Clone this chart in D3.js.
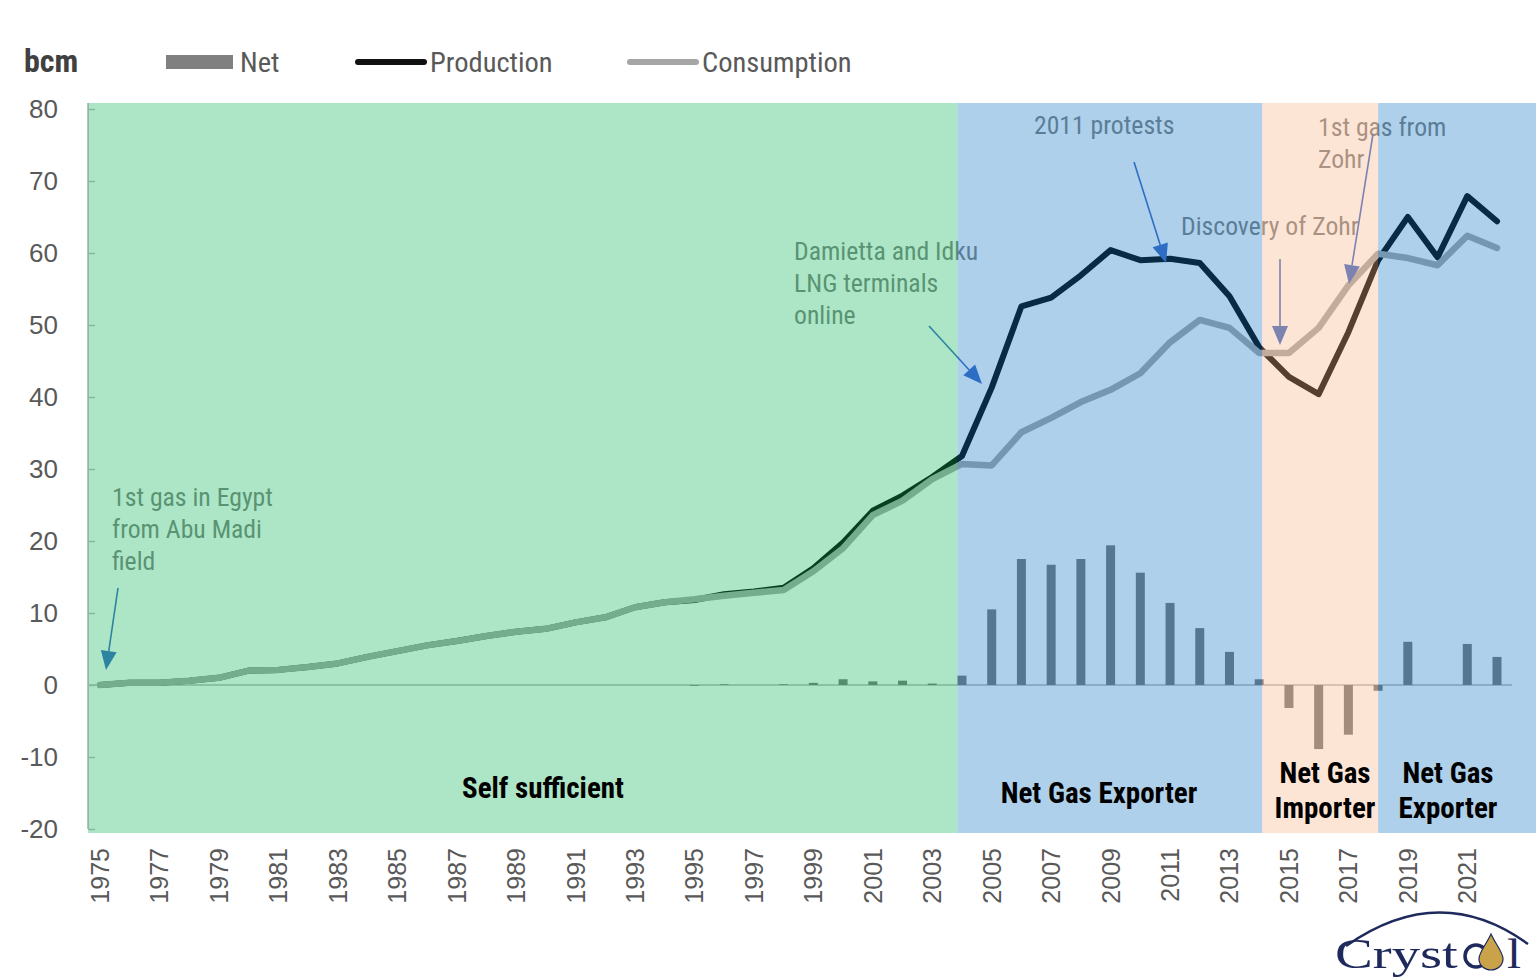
<!DOCTYPE html>
<html>
<head>
<meta charset="utf-8">
<script src="https://cdn.jsdelivr.net/npm/d3@7"></script>
<style>
  html, body { margin: 0; padding: 0; background: #fff; }
  svg { display: block; }
  .narrow { font-family: 'Liberation Sans Narrow', 'Arial Narrow', 'Roboto Condensed', sans-serif; }
</style>
</head>
<body>
<div id="chart"></div>
<script>
// Egypt gas balance, bcm

const years = d3.range(1975, 2023);

const production = [0.0, 0.3, 0.3, 0.6, 1.0, 2.0, 2.1, 2.5, 3.0, 3.9, 4.7, 5.5, 6.1, 6.8, 7.4, 7.8, 8.7, 9.4, 10.8, 11.5,
  11.8, 12.6, 13.0, 13.5, 16.2, 19.8, 24.2, 26.3, 28.9, 31.8, 41.3, 52.6, 53.8, 56.9, 60.4, 59.0, 59.2, 58.6, 54.0,
  46.9, 42.8, 40.4, 49.0, 59.0, 65.0, 59.4, 67.9, 64.4];

const consumption = [0.0, 0.3, 0.3, 0.6, 1.0, 2.0, 2.1, 2.5, 3.0, 3.9, 4.7, 5.5, 6.1, 6.8, 7.4, 7.8, 8.7, 9.4, 10.8, 11.5,
  11.9, 12.4, 12.8, 13.2, 15.8, 19.0, 23.6, 25.6, 28.6, 30.7, 30.5, 35.1, 37.1, 39.3, 41.0, 43.3, 47.6, 50.7, 49.6,
  46.1, 46.1, 49.6, 55.5, 59.9, 59.3, 58.3, 62.4, 60.7];

const net = [0, 0, 0, 0, 0, 0, 0, 0, 0, 0, 0, 0, 0, 0, 0, 0, 0, 0, 0, 0,
  -0.1, 0.1, 0, 0.1, 0.3, 0.8, 0.5, 0.6, 0.2, 1.3, 10.5, 17.5, 16.7, 17.5, 19.4, 15.6, 11.4, 7.9, 4.6,
  0.8, -3.2, -8.9, -6.9, -0.8, 6.0, 0, 5.7, 3.9];

const yTicks = [-20, -10, 0, 10, 20, 30, 40, 50, 60, 70, 80];

// periods (in years) shaded on top of the chart
const regionLabels = [['Self sufficient'], ['Net Gas Exporter'], ['Net Gas', 'Importer'], ['Net Gas', 'Exporter']];
const regionFrom = [1974.6, 2003.85, 2014.1, 2018.0];
const regionTo = [2003.85, 2014.1, 2018.0, 2023.35];

const width = 1536, height = 979;

const svg = d3.select('#chart').append('svg')
  .attr('width', width)
  .attr('height', height)
  .attr('viewBox', [0, 0, width, height]);

const x = d3.scaleLinear().domain([1975, 2022]).range([100, 1497]);
const y = d3.scaleLinear().domain([-20, 80]).range([829, 109]);

const chart = svg.append('g').attr('id', 'chart-body');
const overlay = svg.append('g').attr('id', 'periods');
const labels = svg.append('g').attr('id', 'labels');

// zero line
chart.append('line')
  .attr('x1', 88).attr('x2', 1512)
  .attr('y1', y(0)).attr('y2', y(0))
  .attr('stroke', '#c8c8c8').attr('stroke-width', 2);

// net bars
chart.append('g')
  .selectAll('rect')
  .data(years.map((yr, i) => ({ yr, v: net[i] })).filter(d => d.v !== 0))
  .join('rect')
  .attr('x', d => x(d.yr) - 4.5)
  .attr('width', 9)
  .attr('y', d => y(Math.max(0, d.v)))
  .attr('height', d => Math.abs(y(d.v) - y(0)))
  .attr('fill', '#777');

const line = d3.line()
  .x((d, i) => x(years[i]))
  .y(d => y(d));

chart.append('path')
  .datum(production)
  .attr('d', line)
  .attr('fill', 'none')
  .attr('stroke', '#000')
  .attr('stroke-width', 6)
  .attr('stroke-linejoin', 'round')
  .attr('stroke-linecap', 'round');

chart.append('path')
  .datum(consumption)
  .attr('d', line)
  .attr('fill', 'none')
  .attr('stroke', '#a8a8a8')
  .attr('stroke-width', 6.5)
  .attr('stroke-linejoin', 'round')
  .attr('stroke-linecap', 'round');

// annotations (sit under the shading, like in the original)
const annoColor = '#808080';
const arrowColor = '#3969c5';

function annotate(lines, tx, ty, lh) {
  const t = chart.append('text')
    .attr('class', 'narrow')
    .attr('font-size', 25.7)
    .attr('fill', annoColor);
  lines.forEach((s, i) => {
    t.append('tspan').attr('x', tx).attr('y', ty + i * lh).text(s);
  });
}

function arrow(x1, y1, x2, y2) {
  const ang = Math.atan2(y2 - y1, x2 - x1);
  const L = 19, W = 8;
  const bx = x2 - L * Math.cos(ang), by = y2 - L * Math.sin(ang);
  chart.append('line')
    .attr('x1', x1).attr('y1', y1).attr('x2', bx).attr('y2', by)
    .attr('stroke', arrowColor).attr('stroke-width', 1.6);
  const px = -Math.sin(ang) * W, py = Math.cos(ang) * W;
  chart.append('path')
    .attr('d', `M${x2},${y2}L${bx + px},${by + py}L${bx - px},${by - py}Z`)
    .attr('fill', arrowColor);
}

annotate(['1st gas in Egypt', 'from Abu Madi', 'field'], 112, 506, 32);
arrow(118, 588, 106, 670);

annotate(['Damietta and Idku', 'LNG terminals', 'online'], 794, 260, 32);
arrow(929, 326, 982, 384);

annotate(['2011 protests'], 1034, 134, 32);
arrow(1134, 162, 1166, 263);

annotate(['Discovery of Zohr'], 1181, 235, 32);
arrow(1280, 259, 1280, 345);

annotate(['1st gas from', 'Zohr'], 1318, 136, 32);
arrow(1373, 134, 1349, 284);

// y axis
const yAxis = d3.axisLeft(y)
  .tickValues(yTicks)
  .tickSize(-7)
  .tickPadding(30)
  .tickFormat(d => String(d));

const gy = chart.append('g')
  .attr('transform', 'translate(88,0)')
  .call(yAxis);
gy.select('.domain').attr('stroke', '#bfbfbf').attr('stroke-width', 2)
  .attr('d', 'M0,103V829');
gy.selectAll('.tick line').attr('stroke', '#bfbfbf').attr('stroke-width', 1.5);
gy.selectAll('.tick text')
  .attr('fill', '#595959')
  .attr('font-size', 26)
  .attr('font-family', "'Liberation Sans', Arial, sans-serif");

// x labels, every other year
chart.append('g')
  .selectAll('text')
  .data(years.filter(yr => (yr - 1975) % 2 === 0))
  .join('text')
  .attr('transform', d => `translate(${x(d) + 9},848) rotate(-90)`)
  .attr('text-anchor', 'end')
  .attr('font-family', "'Liberation Sans', Arial, sans-serif")
  .attr('font-size', 25)
  .attr('fill', '#595959')
  .text(d => d);

// shaded periods
const regionFill = ['rgb(21,184,92)', 'rgb(24,121,195)', 'rgb(249,181,138)', 'rgb(24,121,195)'];
const regions = regionFrom.map((f, i) => ({ from: f, to: regionTo[i], fill: regionFill[i], label: regionLabels[i] }));

overlay.selectAll('rect')
  .data(regions)
  .join('rect')
  .attr('x', d => x(d.from))
  .attr('width', d => x(d.to) - x(d.from))
  .attr('y', 103)
  .attr('height', 730)
  .attr('fill', d => d.fill)
  .attr('fill-opacity', 0.35);

// period labels
const labelCx = [543, 1099, 1325, 1448];
const labelY = [798, 803, 783, 783];
regions.forEach((d, i) => {
  const t = labels.append('text')
    .attr('class', 'narrow')
    .attr('font-size', 29)
    .attr('font-weight', 'bold')
    .attr('text-anchor', 'middle')
    .attr('fill', '#000');
  d.label.forEach((s, j) => {
    t.append('tspan').attr('x', labelCx[i]).attr('y', labelY[i] + j * 35).text(s);
  });
});

// legend
const legend = svg.append('g').attr('id', 'legend');
legend.append('text')
  .attr('class', 'narrow')
  .attr('x', 24).attr('y', 72)
  .attr('font-size', 32).attr('font-weight', 'bold')
  .attr('fill', '#404040')
  .text('bcm');

legend.append('rect')
  .attr('x', 166).attr('y', 55).attr('width', 67).attr('height', 14)
  .attr('fill', '#808080');
legend.append('text').attr('class', 'narrow')
  .attr('x', 240).attr('y', 72).attr('font-size', 28.5).attr('fill', '#595959').text('Net');

legend.append('line')
  .attr('x1', 358).attr('x2', 424).attr('y1', 62).attr('y2', 62)
  .attr('stroke', '#111').attr('stroke-width', 6).attr('stroke-linecap', 'round');
legend.append('text').attr('class', 'narrow')
  .attr('x', 430).attr('y', 72).attr('font-size', 28.5).attr('fill', '#595959').text('Production');

legend.append('line')
  .attr('x1', 630).attr('x2', 696).attr('y1', 62).attr('y2', 62)
  .attr('stroke', '#a6a6a6').attr('stroke-width', 6).attr('stroke-linecap', 'round');
legend.append('text').attr('class', 'narrow')
  .attr('x', 702).attr('y', 72).attr('font-size', 28.5).attr('fill', '#595959').text('Consumption');

// logo
const logo = svg.append('g').attr('id', 'logo');
logo.append('path')
  .attr('d', 'M1346,946 Q1440,880 1528,944')
  .attr('fill', 'none').attr('stroke', '#1f2a5c').attr('stroke-width', 2.5);
logo.append('text')
  .attr('transform', 'translate(1335,968) scale(1.35,1)')
  .attr('font-family', "'Liberation Serif', 'DejaVu Serif', serif")
  .attr('font-size', 42)
  .attr('fill', '#1f2a5c')
  .text('Cryst');
logo.append('circle')
  .attr('cx', 1476).attr('cy', 956).attr('r', 11)
  .attr('fill', 'none').attr('stroke', '#1f2a5c').attr('stroke-width', 3.5);
logo.append('path')
  .attr('d', 'M1491,934 C1486,945 1479,952 1479,959 A12,11 0 0,0 1503,959 C1503,952 1496,945 1491,934 Z')
  .attr('fill', '#c9a24a').attr('stroke', '#1f2a5c').attr('stroke-width', 1.2);
logo.append('text')
  .attr('transform', 'translate(1507,968) scale(1.2,1)')
  .attr('font-family', "'Liberation Serif', 'DejaVu Serif', serif")
  .attr('font-size', 42)
  .attr('fill', '#1f2a5c')
  .text('l');
</script>
</body>
</html>
